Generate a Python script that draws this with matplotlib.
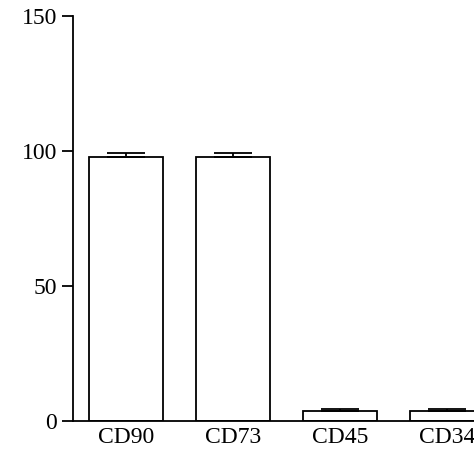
import matplotlib
matplotlib.use("Agg")
import matplotlib.pyplot as plt

categories = ["CD90", "CD73", "CD45", "CD34"]
values = [97.8, 97.8, 3.7, 3.7]
errors = [1.5, 1.5, 0.6, 0.6]

plt.rcParams['font.family'] = ['Liberation Serif', 'DejaVu Serif']
fig = plt.figure(figsize=(4.74, 4.74), dpi=100)
ax = fig.add_axes([73/474, 53/474, 1 - 73/474, (421-16)/474])
x = range(len(categories))
ax.bar(x, values, width=0.69, color="white", edgecolor="black", linewidth=1.3,
       yerr=[[0]*len(errors), errors],
       error_kw=dict(ecolor="black", elinewidth=1.3, capsize=14, capthick=1.3))
ax.set_xticks(list(x))
ax.set_xticklabels(categories, fontsize=17)
ax.tick_params(axis='x', length=0, pad=4)
ax.set_ylim(0, 150)
ax.set_yticks([0, 50, 100, 150])
ax.tick_params(axis='y', labelsize=17, length=8, width=1.3, direction='out')
ax.set_xlim(-0.495, 3.252)
for s in ['top', 'right']:
    ax.spines[s].set_visible(False)
for s in ['left', 'bottom']:
    ax.spines[s].set_linewidth(1.3)
fig.savefig("out.png", dpi=100)
